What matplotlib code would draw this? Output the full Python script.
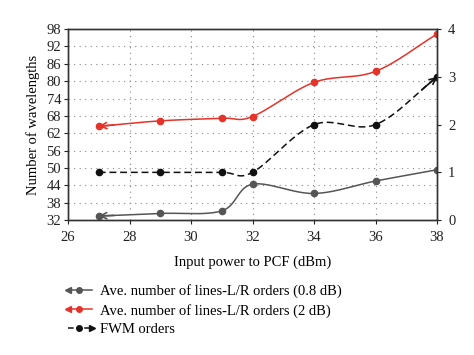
import matplotlib
matplotlib.use("Agg")
import matplotlib.pyplot as plt
import numpy as np
from matplotlib.lines import Line2D
from matplotlib.legend_handler import HandlerBase

plt.rcParams["font.family"] = ["Liberation Serif", "DejaVu Serif"]
plt.rcParams["font.size"] = 10.5

# data
power = [27, 29, 31, 32, 34, 36, 38]
lines_08db = [33.4, 34.3, 35.2, 44.4, 41.2, 45.5, 49.4]
lines_2db = [64.4, 66.3, 67.2, 67.8, 79.6, 83.4, 96.3]
fwm_orders = [1, 1, 1, 1, 2, 2, 3]

x_ticks = [26, 28, 30, 32, 34, 36, 38]
left_ticks = list(range(32, 99, 6))
right_ticks = [0, 1, 2, 3, 4]

GRAY = "#555555"
RED = "#e5332a"
BLACK = "#111111"


def smooth(x, y, n=25):
    """Catmull-Rom curve through the points, for drawing only."""
    p = np.column_stack([x, y]).astype(float)
    p = np.vstack([2 * p[0] - p[1], p, 2 * p[-1] - p[-2]])
    t = np.linspace(0, 1, n)[:, None]
    out = []
    for i in range(1, len(p) - 2):
        p0, p1, p2, p3 = p[i - 1], p[i], p[i + 1], p[i + 2]
        seg = 0.5 * ((2 * p1) + (-p0 + p2) * t
                     + (2 * p0 - 5 * p1 + 4 * p2 - p3) * t ** 2
                     + (-p0 + 3 * p1 - 3 * p2 + p3) * t ** 3)
        out.append(seg if i == 1 else seg[1:])
    out = np.vstack(out)
    return out[:, 0], out[:, 1]


def draw(ax, x, y, color, ls, head_at_start):
    xs, ys = smooth(x, y)
    ax.plot(xs, ys, color=color, ls=ls, lw=1.1)
    ax.plot(x, y, "o", color=color, ms=4.5, ls="none")
    if head_at_start:
        tip, tail = (xs[0], ys[0]), (xs[6], ys[6])
    else:
        tip, tail = (xs[-1], ys[-1]), (xs[-7], ys[-7])
    ax.annotate("", xy=tip, xytext=tail,
                arrowprops=dict(arrowstyle="->", color=color, lw=1.2,
                                mutation_scale=11, shrinkA=0, shrinkB=0))


class ArrowDot(HandlerBase):
    def __init__(self, head):
        super().__init__()
        self.head = head

    def create_artists(self, legend, orig, xd, yd, width, height, fontsize, trans):
        y = height / 2 - yd
        c, ls = orig.get_color(), orig.get_linestyle()
        line = Line2D([-xd, width - xd], [y, y], color=c, ls=ls, lw=1.1, transform=trans)
        dot = Line2D([width * 0.45 - xd], [y], marker="o", ms=4, color=c, transform=trans)
        hx = -xd if self.head == "<" else width - xd
        head = Line2D([hx], [y], marker=self.head, ms=5, color=c, transform=trans)
        return [line, dot, head]


fig = plt.figure(figsize=(4.74, 3.55), dpi=100)
ax = fig.add_axes([0.1435, 0.380, 0.7785, 0.538])
ax2 = ax.twinx()

ax.set_xlim(26, 38)
ax.set_ylim(32, 98)
ax.set_xticks(x_ticks)
ax.set_yticks(left_ticks)
ax2.set_ylim(0, 4)
ax2.set_yticks(right_ticks)

ax.grid(True, ls=(0, (1, 4)), color="#888888", lw=0.8)
for a in (ax, ax2):
    a.tick_params(direction="out", length=3, width=0.8, colors="#222222", pad=2)
    for s in a.spines.values():
        s.set_color("#333333")
        s.set_linewidth(1.0)
ax.tick_params(axis="x", pad=5)
ax2.tick_params(axis="y", pad=5)

draw(ax, power, lines_08db, GRAY, "-", True)
draw(ax, power, lines_2db, RED, "-", True)
draw(ax2, power, fwm_orders, BLACK, (0, (4.5, 2.5)), False)

ax.set_ylabel("Number of wavelengths", labelpad=5)
ax.set_xlabel("Input power to PCF (dBm)", labelpad=8)

handles = [
    Line2D([], [], color=GRAY, ls="-"),
    Line2D([], [], color=RED, ls="-"),
    Line2D([], [], color=BLACK, ls=(0, (2, 2))),
]
labels = [
    "Ave. number of lines-L/R orders (0.8 dB)",
    "Ave. number of lines-L/R orders (2 dB)",
    "FWM orders",
]
fig.legend(handles, labels, loc="upper left", bbox_to_anchor=(0.132, 0.215),
           frameon=False, handlelength=1.6, handletextpad=0.55, labelspacing=0.35,
           borderaxespad=0,
           handler_map={handles[0]: ArrowDot("<"), handles[1]: ArrowDot("<"),
                        handles[2]: ArrowDot(">")})

fig.savefig("out.png", dpi=100)
